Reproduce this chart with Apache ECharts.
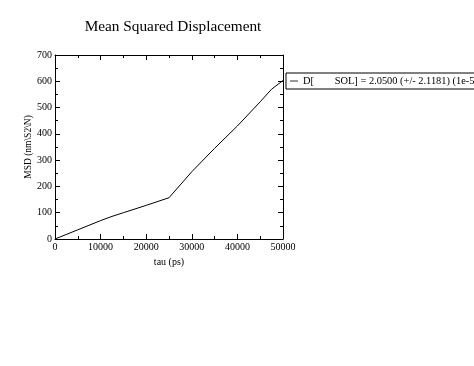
<!DOCTYPE html>
<html>
<head>
<meta charset="utf-8">
<script src="https://cdn.jsdelivr.net/npm/echarts@6/dist/echarts.min.js"></script>
<style>html,body{margin:0;padding:0;background:#fff}#c{width:474px;height:366px}</style>
</head>
<body>
<div id="c"></div>
<script>
var tau = [0, 5000, 10000, 12500, 15000, 20000, 25000, 30000, 35000, 40000, 45000, 47500, 50000];
var msd = [0, 35, 70, 86, 100, 128, 157, 256, 345, 430, 522, 570, 603];
var seriesName = 'D[        SOL] = 2.0500 (+/- 2.1181) (1e-5 cm^2/s)';
var titleText = 'Mean Squared Displacement';
var xName = 'tau (ps)';
var yName = 'MSD (nm\\S2\\N)';

var font = 'Liberation Serif, Times New Roman, serif';
var chart = echarts.init(document.getElementById('c'));
var data = tau.map(function (t, i) { return [t, msd[i]]; });
function axisCommon(extra) {
  var base = {
    axisLine: { show: true, onZero: false, lineStyle: { color: '#000', width: 1 } },
    axisTick: { show: true, inside: true, length: 5, lineStyle: { color: '#000' } },
    minorTick: { show: true, splitNumber: 2, length: 3, lineStyle: { color: '#000' } },
    splitLine: { show: false },
    minorSplitLine: { show: false },
    axisLabel: { color: '#000', fontFamily: font, fontSize: 10, margin: 3,
      formatter: function (v) { return String(v); } }
  };
  return Object.assign(base, extra);
}
chart.setOption({
  animation: false,
  backgroundColor: '#fff',
  title: {
    text: titleText, left: 168, top: 14, textAlign: 'center',
    textStyle: { fontFamily: font, fontSize: 15.3, fontWeight: 'normal', color: '#000' }
  },
  grid: { left: 55, right: 191, top: 55, bottom: 127, containLabel: false },
  legend: {
    left: 286, top: 73, orient: 'vertical',
    borderColor: '#000', borderWidth: 1, borderRadius: 0,
    padding: [3, 4, 3, 4],
    itemWidth: 8, itemHeight: 10, itemGap: 0,
    textStyle: { fontFamily: font, fontSize: 10.4, color: '#000', padding: [0, 0, 0, 0] },
    data: [{ name: seriesName, icon: 'path://M0,5 L10,5 L10,6 L0,6 Z' }]
  },
  xAxis: [
    axisCommon({ type: 'value', min: 0, max: 50000, interval: 10000, position: 'bottom',
      name: xName, nameLocation: 'middle', nameGap: 12,
      nameTextStyle: { fontFamily: font, fontSize: 10, color: '#000' } }),
    axisCommon({ type: 'value', min: 0, max: 50000, interval: 10000, position: 'top',
      axisLabel: { show: false } })
  ],
  yAxis: [
    axisCommon({ type: 'value', min: 0, max: 700, interval: 100, position: 'left',
      name: yName, nameLocation: 'middle', nameGap: 21, nameRotate: 90,
      nameTextStyle: { fontFamily: font, fontSize: 9.5, color: '#000' } }),
    axisCommon({ type: 'value', min: 0, max: 700, interval: 100, position: 'right',
      axisLabel: { show: false } })
  ],
  series: [{
    name: seriesName, type: 'line', data: data, symbol: 'none',
    lineStyle: { color: '#000', width: 1 }, itemStyle: { color: '#000' }
  }]
});
</script>
</body>
</html>
